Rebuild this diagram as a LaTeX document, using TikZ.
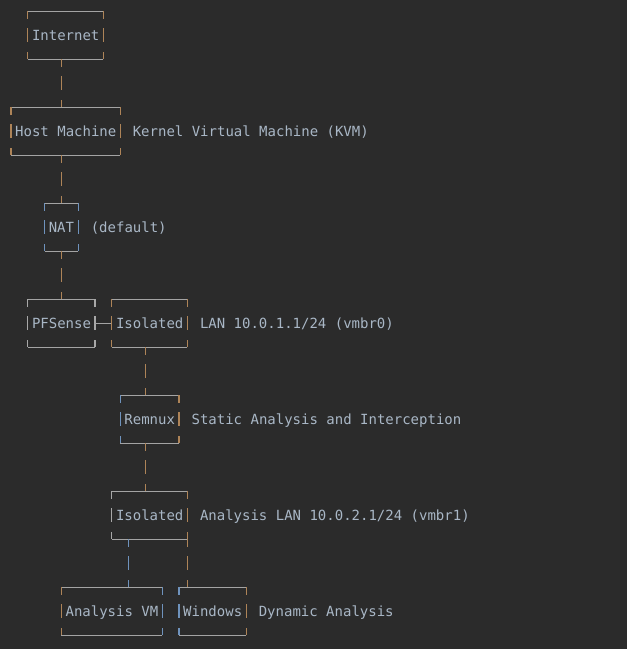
\documentclass[tikz,border=0pt]{standalone}
\usepackage{fontspec}
\setmonofont{DejaVu Sans Mono}
\definecolor{bg}{HTML}{2B2B2B}
\definecolor{txt}{HTML}{A9B7C6}
\definecolor{hgray}{HTML}{A4A4A4}
\definecolor{vor}{HTML}{AE8458}
\definecolor{vbl}{HTML}{6F93BD}
\definecolor{vgr}{HTML}{A8A8A8}
\tikzset{
  lbl/.style={text=txt, font=\ttfamily\fontsize{14}{14}\selectfont, inner sep=0pt, outer sep=0pt, anchor=base west, yshift=-5pt},
  hl/.style={draw=hgray, line width=1pt},
  vo/.style={draw=vor, line width=1.3pt},
  vb/.style={draw=vbl, line width=1.3pt},
  vg/.style={draw=vgr, line width=1.1pt}
}
% glyph pieces: style, column, line
\newcommand\gbar[3]{\draw[#1] (#2,#3) ++(0,-0.29) -- ++(0,0.58);}
\newcommand\gdn[3]{\draw[#1] (#2,#3) -- ++(0,0.33);}
\newcommand\gup[3]{\draw[#1] (#2,#3) -- ++(0,-0.30);}
\newcommand\ghl[3]{\draw[hl] (#1,#3) -- (#2,#3);}
% box: left col, right col, text line, left style, right style
\newcommand\tbox[5]{%
  \pgfmathtruncatemacro\tbT{#3-1}\pgfmathtruncatemacro\tbB{#3+1}%
  \ghl{#1}{#2}{\tbT}\ghl{#1}{#2}{\tbB}%
  \gdn{#4}{#1}{\tbT}\gdn{#5}{#2}{\tbT}%
  \gbar{#4}{#1}{#3}\gbar{#5}{#2}{#3}%
  \gup{#4}{#1}{\tbB}\gup{#5}{#2}{\tbB}}
% vertical connector between two box borders: style, column, line of upper border
\newcommand\gconn[3]{%
  \pgfmathtruncatemacro\gcM{#3+1}\pgfmathtruncatemacro\gcN{#3+2}%
  \gdn{#1}{#2}{#3}\gbar{#1}{#2}{\gcM}\gup{#1}{#2}{\gcN}}
\begin{document}
\begin{tikzpicture}[x=8.4pt,y=-24pt,shift={(11pt,-11pt)}]
\fill[bg] (-11pt,11pt) rectangle (616pt,-638pt);
\useasboundingbox (-11pt,11pt) rectangle (616pt,-638pt);

% Internet
\tbox{2}{11}{1}{vo}{vo}
\node[lbl] (internet) at (2.5,1) {Internet};
\gconn{vo}{6}{2}

% Host Machine
\tbox{0}{13}{5}{vo}{vo}
\node[lbl] (host) at (0.5,5) {Host Machine};
\node[lbl] (kvm) at (14.5,5) {Kernel Virtual Machine (KVM)};
\gconn{vo}{6}{6}

% NAT
\tbox{4}{8}{9}{vb}{vb}
\node[lbl] (nat) at (4.5,9) {NAT};
\node[lbl] (natdef) at (9.5,9) {(default)};
\gconn{vo}{6}{10}

% PFSense and Isolated
\tbox{2}{10}{13}{vg}{vg}
\node[lbl] (pfsense) at (2.5,13) {PFSense};
\ghl{10}{12}{13}
\tbox{12}{21}{13}{vo}{vo}
\node[lbl] (iso1) at (12.5,13) {Isolated};
\node[lbl] (lan1) at (22.5,13) {LAN 10.0.1.1/24 (vmbr0)};
\gconn{vo}{16}{14}

% Remnux
\tbox{13}{20}{17}{vb}{vo}
\node[lbl] (remnux) at (13.5,17) {Remnux};
\node[lbl] (static) at (21.5,17) {Static Analysis and Interception};
\gconn{vo}{16}{18}

% Isolated (analysis)
\tbox{12}{21}{21}{vg}{vo}
\node[lbl] (iso2) at (12.5,21) {Isolated};
\node[lbl] (lan2) at (22.5,21) {Analysis LAN 10.0.2.1/24 (vmbr1)};
\gconn{vb}{14}{22}
\gconn{vo}{21}{22}

% Analysis VM and Windows
\tbox{6}{18}{25}{vo}{vb}
\node[lbl] (avm) at (6.5,25) {Analysis VM};
\tbox{20}{28}{25}{vb}{vo}
\node[lbl] (win) at (20.5,25) {Windows};
\node[lbl] (dyn) at (29.5,25) {Dynamic Analysis};
\end{tikzpicture}
\end{document}
